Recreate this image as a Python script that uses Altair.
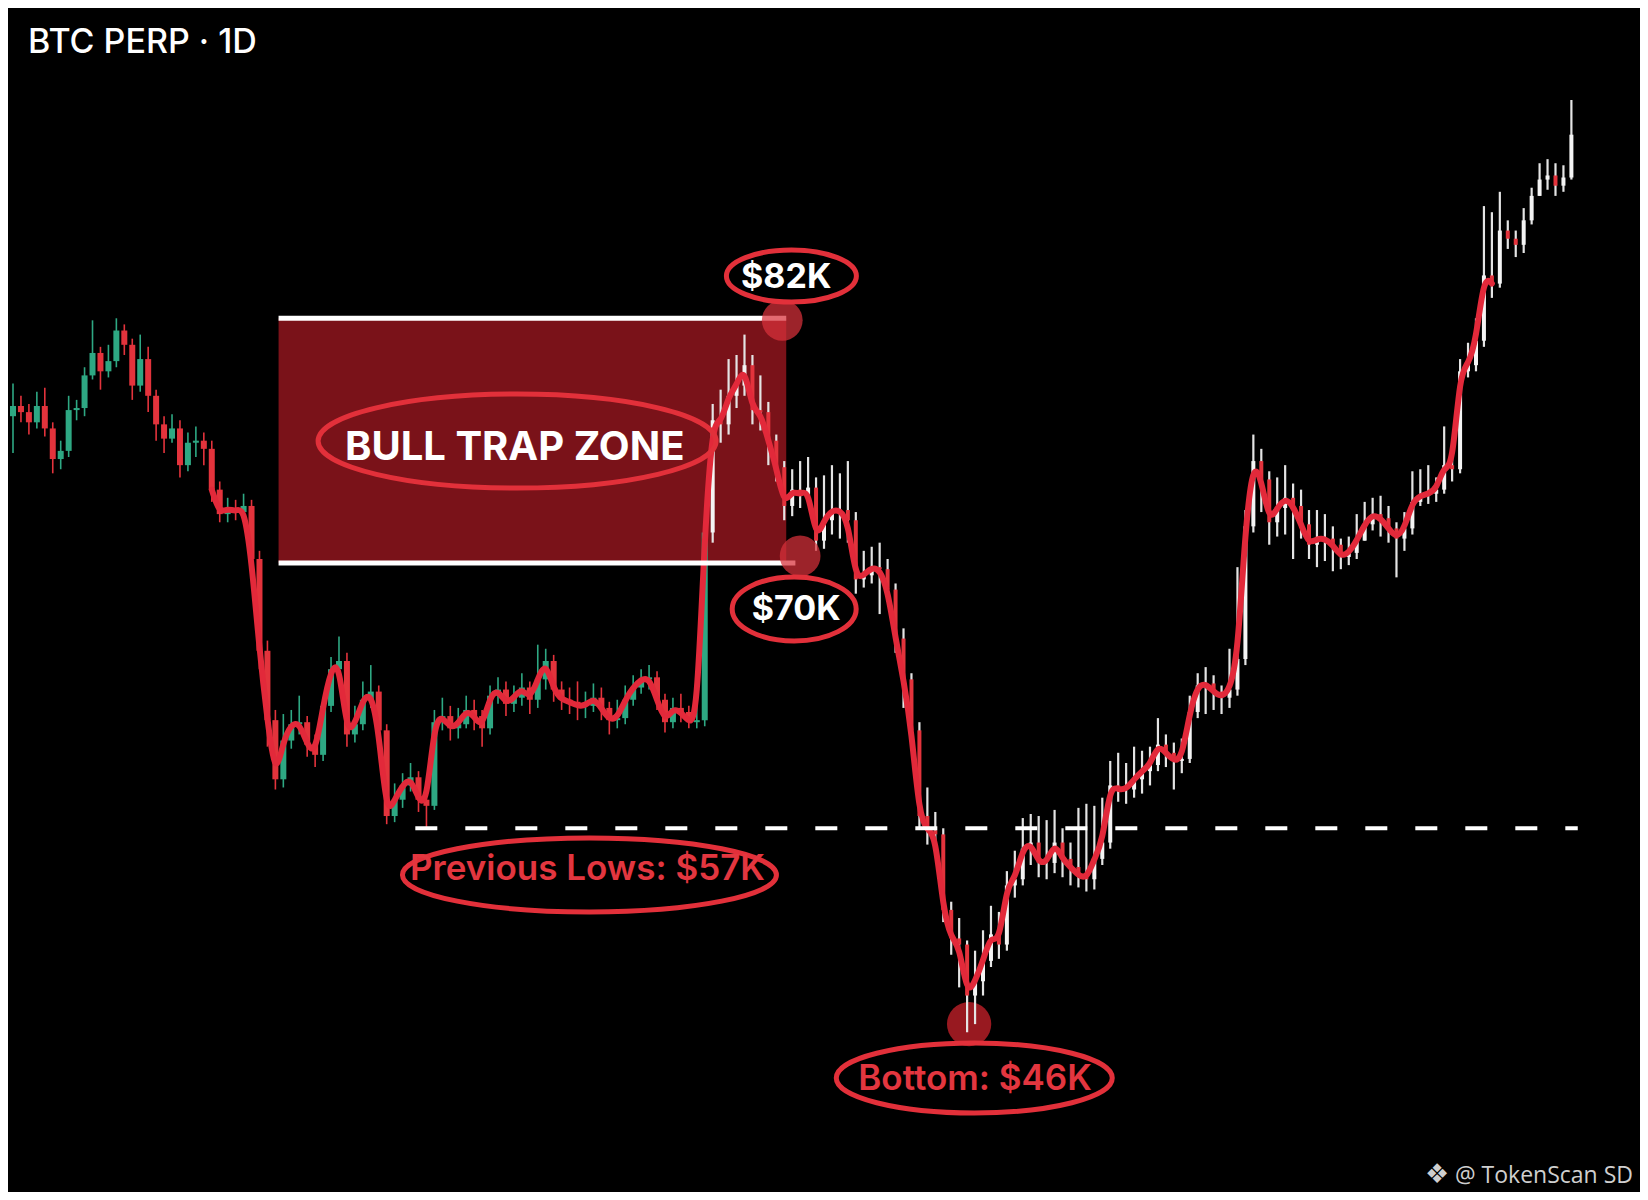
import altair as alt
import pandas as pd

# ---------------- data (BTC perp, daily candles, prices in $K) ----------------
first_open = 77.2
close = [
    77.7, 77.4, 76.9, 77.7, 76.6, 75.1, 75.5, 77.5, 77.6, 79.2,
    80.3, 79.4, 79.9, 81.4, 80.7, 78.7, 80.0, 78.2, 76.8, 76.1,
    76.6, 74.8, 75.9, 76.0, 75.6, 73.6, 72.4, 72.7, 72.5, 72.8,
    70.2, 65.7, 62.3, 59.4, 61.3, 62.1, 62.2, 61.1, 60.6, 63.0,
    64.8, 65.2, 61.6, 62.1, 63.3, 63.7, 61.8, 57.6, 58.4, 59.1,
    59.5, 58.4, 58.1, 62.2, 62.5, 61.9, 62.1, 62.8, 62.5, 61.9,
    63.5, 63.8, 63.1, 63.4, 63.9, 63.3, 64.3, 65.2, 63.8, 63.3,
    63.2, 63.0, 63.0, 63.4, 62.9, 62.3, 62.4, 63.3, 63.9, 64.3,
    64.4, 63.3, 62.2, 62.9, 62.7, 62.2, 62.3, 71.5, 77.0, 76.8,
    78.2, 78.7, 79.7, 77.5, 77.4, 76.0, 74.7, 72.8, 73.6, 73.3,
    73.7, 71.1, 72.1, 72.6, 72.6, 72.1, 69.2, 69.4, 69.8, 69.7,
    68.7, 66.3, 64.3, 61.8, 57.6, 56.9, 56.7, 53.0, 51.6, 51.3,
    48.8, 49.5, 50.5, 51.8, 51.3, 54.2, 54.5, 56.0, 56.3, 55.3,
    55.3, 56.3, 55.5, 55.1, 54.7, 54.5, 55.5, 56.3, 59.1, 58.9,
    58.9, 59.4, 59.8, 60.1, 61.1, 60.7, 60.3, 60.4, 62.7, 64.0,
    64.1, 63.7, 63.4, 63.8, 65.3, 71.8, 75.0, 74.1, 72.0, 72.7,
    73.2, 72.8, 71.9, 70.9, 71.2, 71.2, 70.9, 70.3, 70.5, 71.1,
    71.9, 72.4, 72.2, 71.7, 71.2, 71.7, 73.0, 73.3, 73.4, 73.6,
    74.8, 74.6, 79.4, 79.7, 80.9, 84.1, 83.7, 86.3, 85.9, 85.6,
    86.8, 88.0, 88.8, 89.0, 88.5, 88.9, 91.0,
]
high = [
    78.8, 78.2, 77.8, 78.4, 78.6, 76.9, 76.0, 78.2, 78.0, 79.6,
    81.9, 80.6, 80.7, 82.0, 81.7, 81.0, 81.2, 80.6, 78.5, 77.2,
    77.3, 77.0, 76.4, 76.7, 76.4, 76.0, 74.0, 73.2, 73.1, 73.4,
    73.1, 70.6, 66.2, 62.8, 62.6, 62.8, 63.5, 62.5, 61.6, 63.4,
    65.4, 66.4, 65.6, 63.0, 64.2, 65.0, 64.0, 62.1, 59.2, 59.7,
    60.2, 59.8, 58.9, 62.8, 63.4, 63.0, 62.9, 63.5, 63.3, 62.8,
    64.0, 64.4, 64.2, 64.0, 64.6, 64.2, 66.0, 65.8, 65.5, 64.2,
    63.9, 64.2, 63.7, 64.1, 63.9, 63.2, 63.3, 64.0, 64.5, 64.8,
    65.0, 64.7, 63.6, 63.4, 63.6, 63.0, 63.5, 72.2, 77.8, 78.5,
    80.0, 80.2, 81.2, 80.2, 79.2, 77.9, 76.3, 75.0, 74.6, 75.0,
    75.2, 74.2, 74.3, 74.8, 74.4, 75.0, 72.5, 70.6, 70.8, 71.0,
    70.2, 69.0, 66.8, 64.6, 62.2, 59.0, 57.8, 57.0, 53.4, 52.6,
    51.5, 51.0, 52.0, 53.2, 52.9, 54.9, 55.9, 57.5, 57.7, 57.6,
    57.4, 57.9, 57.0, 56.3, 58.0, 58.2, 58.1, 58.5, 60.3, 60.7,
    60.2, 61.0, 60.8, 61.0, 62.4, 61.6, 61.2, 61.4, 63.5, 64.6,
    64.9, 64.5, 64.0, 65.8, 69.8, 72.6, 76.3, 75.6, 74.5, 74.2,
    74.8, 73.9, 73.6, 72.6, 72.6, 72.4, 71.8, 71.2, 71.3, 72.4,
    73.0, 73.2, 73.3, 72.8, 72.0, 72.5, 74.5, 74.6, 74.8, 74.2,
    76.7, 75.6, 80.0, 80.8, 82.0, 87.5, 87.2, 88.2, 86.8, 86.3,
    87.4, 88.4, 89.6, 89.8, 89.6, 89.5, 92.7,
]
low = [
    75.4, 76.9, 76.3, 76.6, 76.2, 74.4, 74.6, 75.2, 77.0, 77.2,
    79.0, 78.5, 79.1, 79.6, 80.2, 78.0, 78.4, 77.4, 76.0, 75.4,
    75.9, 74.2, 74.5, 75.2, 74.8, 73.0, 72.0, 72.0, 72.1, 72.2,
    69.5, 64.8, 61.0, 58.9, 59.0, 60.9, 61.6, 60.5, 60.0, 60.3,
    62.7, 64.3, 61.0, 61.2, 61.8, 62.9, 61.3, 57.2, 57.3, 58.0,
    58.8, 57.8, 57.0, 57.9, 61.8, 61.3, 61.4, 61.9, 61.8, 61.0,
    61.6, 63.1, 62.5, 62.7, 63.0, 62.6, 62.9, 63.8, 63.2, 62.8,
    62.6, 62.3, 62.4, 62.7, 62.3, 61.6, 61.9, 62.1, 63.0, 63.6,
    63.8, 62.8, 61.7, 61.9, 62.2, 61.9, 61.9, 62.0, 71.0, 75.9,
    76.3, 77.6, 78.2, 76.8, 76.5, 74.8, 74.0, 72.1, 72.3, 72.7,
    72.9, 70.6, 70.7, 71.4, 71.2, 71.0, 68.5, 68.8, 69.0, 67.5,
    68.1, 65.6, 62.9, 61.2, 57.0, 56.2, 56.0, 52.4, 50.8, 49.2,
    47.0, 47.4, 48.8, 50.2, 50.6, 51.0, 53.6, 54.2, 55.2, 54.6,
    54.5, 54.8, 54.6, 54.2, 54.1, 53.9, 54.0, 55.2, 56.0, 58.3,
    58.2, 58.5, 58.7, 59.1, 59.8, 60.0, 58.9, 59.7, 60.2, 62.4,
    62.6, 62.8, 62.6, 62.9, 63.5, 65.0, 71.5, 72.5, 70.9, 71.3,
    71.4, 70.2, 71.2, 70.2, 69.8, 70.1, 69.6, 69.7, 69.9, 70.2,
    71.1, 71.6, 71.3, 71.0, 69.3, 70.6, 71.4, 72.8, 72.9, 73.0,
    73.4, 74.0, 74.4, 79.1, 79.4, 80.6, 83.0, 83.5, 85.4, 85.0,
    85.2, 86.6, 88.0, 88.3, 88.0, 88.2, 88.8,
]

# key levels ($K)
zone_top = 82.0
zone_bottom = 70.0
prev_low = 57.0
bottom_level = 47.4

# ---------------- styling ----------------
TEAL = "#2ea883"
RED = "#e3333c"
WHITE = "#f4f4f4"
WICK_WHITE = "#e4e4e4"
LINE = "#e2293a"
ZONE = "#7a1219"
ELL = "#e2303a"

W, H = 1632, 1184
XS = alt.Scale(domain=[0, 204], nice=False, zero=False)
YS = alt.Scale(domain=[39.17, 97.21], nice=False, zero=False)


def X(f):
    return alt.X(f, type="quantitative", scale=XS, axis=None)


def Y(f):
    return alt.Y(f, type="quantitative", scale=YS, axis=None)


WHITE_FROM = 88      # candles from here on are drawn white/red
LINE_FROM, LINE_TO = 25, 186

opens = [first_open] + close[:-1]
rows = []
for i in range(len(close)):
    up = close[i] >= opens[i]
    if i < WHITE_FROM:
        body = TEAL if up else RED
        wick = body
    else:
        body = WHITE if up else RED
        wick = WICK_WHITE
    rows.append(dict(i=i, open=opens[i], close=close[i], high=high[i],
                     low=low[i], body=body, wick=wick))
df = pd.DataFrame(rows)
dfA = df[df.i < WHITE_FROM]
dfB = df[df.i >= WHITE_FROM]
dfL = df[(df.i >= LINE_FROM) & (df.i <= LINE_TO)]

# ---------------- layers ----------------
zone = alt.Chart(pd.DataFrame([{"x0": 33.4, "x1": 97.25, "p0": zone_bottom, "p1": zone_top}])) \
    .mark_rect(color=ZONE).encode(x=X("x0"), x2="x1", y=Y("p0"), y2="p1")

bottom_dot = alt.Chart(pd.DataFrame([{"x": 120.25, "p": bottom_level}])) \
    .mark_circle(color="#a51b23", opacity=0.92, size=1963).encode(x=X("x"), y=Y("p"))

wicksA = alt.Chart(dfA).mark_rule(strokeWidth=1.6).encode(
    x=X("i"), y=Y("low"), y2="high", color=alt.Color("wick:N", scale=None))
bodiesA = alt.Chart(dfA).mark_bar(size=6).encode(
    x=X("i"), y=Y("open"), y2="close", color=alt.Color("body:N", scale=None))
wicksB = alt.Chart(dfB).mark_rule(strokeWidth=2.2).encode(
    x=X("i"), y=Y("low"), y2="high", color=alt.Color("wick:N", scale=None))
bodiesB = alt.Chart(dfB).mark_bar(size=4).encode(
    x=X("i"), y=Y("open"), y2="close", color=alt.Color("body:N", scale=None))

red_line = alt.Chart(dfL).mark_line(
    color=LINE, strokeWidth=6, interpolate="basis", strokeCap="round", strokeJoin="round"
).encode(x=X("i"), y=Y("close"))

dashed = alt.Chart(pd.DataFrame([{"x0": 50.6, "x1": 196.8, "p": prev_low}])) \
    .mark_rule(color="white", strokeWidth=4, strokeDash=[22, 28]).encode(x=X("x0"), x2="x1", y=Y("p"))

zone_lines = alt.Chart(pd.DataFrame([
    {"x0": 33.4, "x1": 97.25, "p": zone_top},
    {"x0": 33.4, "x1": 98.4, "p": zone_bottom},
])).mark_rule(color="white", strokeWidth=5).encode(x=X("x0"), x2="x1", y=Y("p"))

level_dots = alt.Chart(pd.DataFrame([
    {"x": 96.75, "p": 81.9},
    {"x": 99.0, "p": 70.35},
])).mark_circle(color="#d8303a", opacity=0.72, size=1662).encode(x=X("x"), y=Y("p"))


def ellipse_path(k):
    c = 0.5523
    return (f"M 1 0 C 1 {k*c:.4f} {c:.4f} {k:.4f} 0 {k:.4f} "
            f"C {-c:.4f} {k:.4f} -1 {k*c:.4f} -1 0 "
            f"C -1 {-k*c:.4f} {-c:.4f} {-k:.4f} 0 {-k:.4f} "
            f"C {c:.4f} {-k:.4f} 1 {-k*c:.4f} 1 0 Z")


ell_specs = [  # centre (index, $K), radii px
    (97.9, 84.07, 65, 26),
    (98.25, 67.75, 62, 32),
    (63.4, 75.98, 199, 47),
    (72.5, 54.71, 187, 37),
    (120.9, 44.76, 138, 35),
]
ell_df = pd.DataFrame([
    {"x": x, "p": p, "path": ellipse_path(ry / rx), "sz": (2 * rx) ** 2}
    for x, p, rx, ry in ell_specs
])
ellipses = alt.Chart(ell_df).mark_point(filled=False, opacity=1, strokeWidth=5, color=ELL).encode(
    x=X("x"), y=Y("p"),
    shape=alt.Shape("path:N", scale=None),
    size=alt.Size("sz:Q", scale=None),
)

white_lbl = alt.Chart(pd.DataFrame([
    {"x": 97.25, "p": 84.02, "t": "$82K"},
    {"x": 98.5, "p": 67.75, "t": "$70K"},
])).mark_text(font="Inter", fontWeight=700, fontSize=34, color="white", align="center",
              baseline="middle", dy=1).encode(x=X("x"), y=Y("p"), text="t:N")

zone_lbl = alt.Chart(pd.DataFrame([{"x": 63.1, "p": 75.69, "t": "BULL TRAP ZONE"}])) \
    .mark_text(font="Inter", fontWeight=700, fontSize=40, color="white", align="center",
               baseline="middle", dy=1).encode(x=X("x"), y=Y("p"), text="t:N")

red_lbl = alt.Chart(pd.DataFrame([
    {"x": 72.25, "p": 55.05, "t": "Previous Lows: $57K"},
    {"x": 121.0, "p": 44.76, "t": "Bottom: $46K"},
])).mark_text(font="Inter", fontWeight=600, fontSize=35, color="#e3363f", align="center",
              baseline="middle", dy=1).encode(x=X("x"), y=Y("p"), text="t:N")

title = alt.Chart(pd.DataFrame([{"t": "BTC PERP · 1D"}])).mark_text(
    font="Inter", fontWeight=500, fontSize=34, color="white", align="left", baseline="alphabetic"
).encode(x=alt.value(20), y=alt.value(45), text="t:N")

logo = alt.Chart(pd.DataFrame([{"t": "❖"}])).mark_text(
    font="DejaVu Sans", fontSize=27, color="#cfcfcf", align="center", baseline="alphabetic"
).encode(x=alt.value(1429), y=alt.value(1175), text="t:N")

wm = alt.Chart(pd.DataFrame([{"t": "@ TokenScan SD"}])).mark_text(
    font="Open Sans", fontSize=23, color="#cfcfcf", align="left", baseline="alphabetic"
).encode(x=alt.value(1447), y=alt.value(1175), text="t:N")

chart = alt.layer(
    zone, bottom_dot, wicksA, bodiesA, wicksB, bodiesB, red_line, dashed,
    zone_lines, level_dots, ellipses, white_lbl, zone_lbl, red_lbl, title, logo, wm
).properties(
    width=W, height=H, background="#000000", padding=0,
    autosize=alt.AutoSizeParams(type="none"),
).configure_view(stroke=None)

chart.save("out.html", embed_options={"renderer": "svg", "actions": False})
